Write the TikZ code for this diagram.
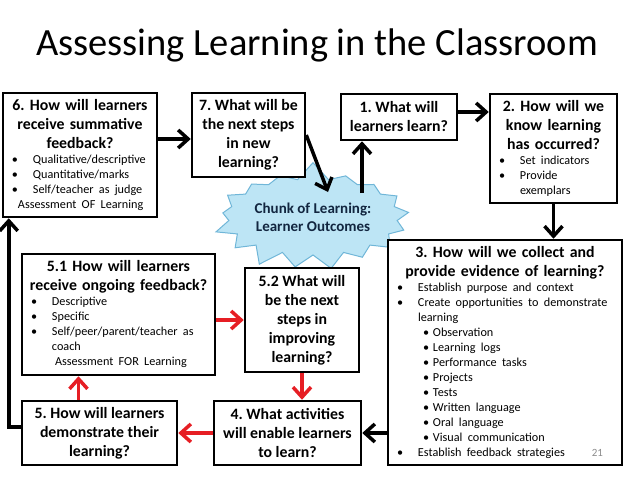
\documentclass[tikz,border=0pt]{standalone}
\usepackage{fontspec}
\setmainfont{Carlito}
\usepackage{tikz}
\usetikzlibrary{positioning, shapes.symbols, arrows.meta}

\definecolor{burstfill}{RGB}{189,229,245}
\definecolor{burstline}{RGB}{112,182,216}
\definecolor{bursttext}{RGB}{18,38,64}
\definecolor{redarrow}{RGB}{230,30,36}
\definecolor{pagenum}{RGB}{140,140,140}

\frenchspacing
\newcommand{\headfont}{\fontsize{15.8}{19}\selectfont\bfseries}
\newcommand{\bodyfont}{\normalfont\fontsize{12.2}{15}\selectfont}
\newcommand{\bitem}[1]{\par\hangindent=24pt\hangafter=1\noindent\makebox[24pt][l]{\hspace{3pt}\textbullet}#1}
\newcommand{\sitem}[1]{\par\noindent\hspace*{29pt}\makebox[10pt][l]{\textbullet}#1}

\tikzset{
    qbox/.style = {draw, line width=2.5pt, fill=white, inner xsep=6pt, inner ysep=2pt, font=\headfont},
    qhead/.style = {qbox, align=center},
    flow/.style = {line width=3.5pt, -{Straight Barb[length=10pt, width=18pt]}},
    redflow/.style = {flow, draw=redarrow},
    burst/.style = {starburst, draw=burstline, fill=burstfill, line width=1pt, starburst points=17,
        starburst point height=18pt, random starburst=7, minimum width=205pt, minimum height=112pt,
        inner sep=0pt, align=center, text=bursttext, font=\bfseries\fontsize{15}{18}\selectfont}
}

\begin{document}
\begin{tikzpicture}[x=1pt, y=-1pt]
                \useasboundingbox (0, 0) rectangle (638, 479);

                \node [font=\fontsize{38.5}{46}\selectfont, anchor=base] (title) at (317, 55) {Assessing Learning in the Classroom};

                \node [burst] (chunk) at (313, 217) {Chunk of Learning:\\Learner Outcomes};

                \node [qbox, minimum width=154, minimum height=124, text width=142pt] (summative) at (80, 155)
                    {{\centering 6. How will learners\\receive summative\\feedback?\par}
                    {\bodyfont\raggedright
                    \bitem{Qualitative/descriptive}
                    \bitem{Quantitative/marks}
                    \bitem{Self/teacher as judge}
                    \par\noindent\hspace*{9pt}Assessment OF Learning\par}};
                \node [qhead, minimum width=113, minimum height=84] (nextnew) at (248.5, 135) {7. What will be\\the next steps\\in new\\learning?};
                \node [qhead, minimum width=116, minimum height=46] (learn) at (399, 117) {1. What will\\learners learn?};
                \node [qbox, minimum width=127, minimum height=109, text width=115pt] (know) at (553.5, 148.5)
                    {{\centering 2. How will we\\know learning\\has occurred?\par}
                    {\bodyfont\raggedright
                    \bitem{Set indicators}
                    \bitem{Provide\newline exemplars}\par}};
                \node [qbox, minimum width=234, minimum height=225, text width=222pt] (evidence) at (505, 352.5)
                    {{\centering 3. How will we collect and\\provide evidence of learning?\par}
                    {\bodyfont\raggedright
                    \bitem{Establish purpose and context}
                    \bitem{Create opportunities to demonstrate\newline learning}
                    \sitem{Observation}
                    \sitem{Learning logs}
                    \sitem{Performance tasks}
                    \sitem{Projects}
                    \sitem{Tests}
                    \sitem{Written language}
                    \sitem{Oral language}
                    \sitem{Visual communication}
                    \bitem{Establish feedback strategies\hfill{\color{pagenum}\fontsize{11}{13}\selectfont 21}\hspace*{13pt}}\par}};
                \node [qbox, minimum width=193, minimum height=121, text width=181pt] (ongoing) at (118.5, 314.5)
                    {{\centering 5.1 How will learners\\receive ongoing feedback?\par}
                    {\bodyfont\raggedright
                    \bitem{Descriptive}
                    \bitem{Specific}
                    \bitem{Self/peer/parent/teacher as\newline coach}
                    \par\noindent\hspace*{27pt}Assessment FOR Learning\par}};
                \node [qhead, minimum width=114, minimum height=104] (improve) at (302, 320) {5.2 What will\\be the next\\steps in\\improving\\learning?};
                \node [qhead, minimum width=155, minimum height=64] (demonstrate) at (99.5, 433) {5. How will learners\\demonstrate their\\learning?};
                \node [qhead, minimum width=147, minimum height=64] (activities) at (287.5, 433) {4. What activities\\will enable learners\\to learn?};

                \coordinate (burstin) at (328, 192);
                \coordinate (burstout) at (362, 193);

                \draw [flow] ([yshift=-4pt]summative.east |- nextnew.west) -- ([yshift=-4pt]nextnew.west);
                \draw [flow] (nextnew.east) -- (burstin);
                \draw [flow] (burstout) -- (burstout |- learn.south);
                \draw [flow] ([yshift=5pt]learn.east) -- ([yshift=5pt]learn.east -| know.west);
                \draw [flow] (know.south) -- (know.south |- evidence.north);
                \draw [flow] (evidence.west |- activities.east) -- (activities.east);
                \draw [redflow] (activities.west) -- (demonstrate.east);
                \draw [redflow] ([xshift=-21pt]demonstrate.north) -- ([xshift=-21pt]demonstrate.north |- ongoing.south);
                \draw [redflow] (ongoing.east |- improve.west) -- (improve.west);
                \draw [redflow] (improve.south) -- (improve.south |- activities.north);
                \draw [flow] ([yshift=6pt]demonstrate.west) -| ([xshift=7pt]summative.south west);
            \end{tikzpicture}
\end{document}
